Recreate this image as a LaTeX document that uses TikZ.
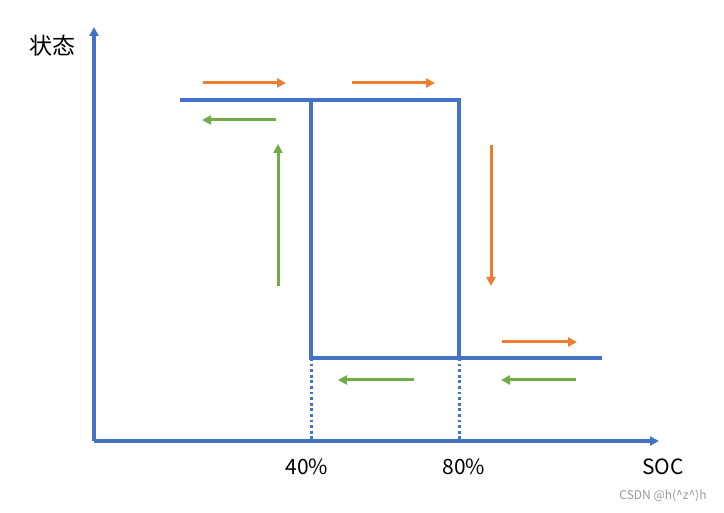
\documentclass[tikz,border=0pt]{standalone}
\usepackage{fontspec}
\setmainfont{Noto Sans CJK SC}
\usetikzlibrary{arrows.meta}
\definecolor{cblue}{HTML}{4472C4}
\definecolor{corange}{HTML}{ED7D31}
\definecolor{cgreen}{HTML}{70AD47}
\begin{document}
\begin{tikzpicture}[x=1pt,y=-1pt,
  axisline/.style={cblue,line width=3.2pt,-{Triangle[length=9pt,width=9pt]}},
  curve/.style={cblue,line width=3.2pt},
  dotline/.style={cblue,line width=3pt,dash pattern=on 2.8pt off 2.8pt},
  oarrow/.style={corange,line width=3pt,-{Triangle[length=9pt,width=9pt]}},
  garrow/.style={cgreen,line width=3pt,-{Triangle[length=9pt,width=9pt]}},
  lbl/.style={font=\fontsize{21}{25}\selectfont,inner sep=0pt}]
\useasboundingbox (0,0) rectangle (724,513);
% coordinates
\coordinate (O) at (94,441);
\coordinate (Ytip) at (94,27);
\coordinate (Xtip) at (659,441);
\coordinate (U0) at (180,100);
\coordinate (U1) at (311,100);
\coordinate (U2) at (459,100);
\coordinate (L1) at (311,358);
\coordinate (L2) at (459,358);
\coordinate (L3) at (602,358);
\coordinate (B1) at (311,441);
\coordinate (B2) at (459,441);
% axes
\draw[axisline] (O) -- (Ytip);
\draw[axisline] (O) -- (Xtip);
% hysteresis
\draw[curve] (U0) -- (U2) -- (L2);
\draw[curve] (U1) -- (L1) -- (L3);
\draw[dotline] (L1) -- (B1);
\draw[dotline] (L2) -- (B2);
% orange arrows
\coordinate (oa1) at (203,83); \coordinate (ob1) at (286,83);
\coordinate (oa2) at (352,83); \coordinate (ob2) at (435,83);
\coordinate (oa3) at (491,145); \coordinate (ob3) at (491,286);
\coordinate (oa4) at (502,342); \coordinate (ob4) at (577,342);
\draw[oarrow] (oa1) -- (ob1);
\draw[oarrow] (oa2) -- (ob2);
\draw[oarrow] (oa3) -- (ob3);
\draw[oarrow] (oa4) -- (ob4);
% green arrows
\coordinate (ga1) at (276,120); \coordinate (gb1) at (202,120);
\coordinate (ga2) at (278,286); \coordinate (gb2) at (278,144);
\coordinate (ga3) at (414,380); \coordinate (gb3) at (338,380);
\coordinate (ga4) at (576,380); \coordinate (gb4) at (501,380);
\draw[garrow] (ga1) -- (gb1);
\draw[garrow] (ga2) -- (gb2);
\draw[garrow] (ga3) -- (gb3);
\draw[garrow] (ga4) -- (gb4);
% labels
\node[font=\fontsize{23}{27}\selectfont,inner sep=0pt] (ylab) at (53,46) {状态};
\node[lbl] (p40) at (307,467) {40\%};
\node[lbl] (p80) at (464,467) {80\%};
\node[lbl] (soc) at (663,467) {SOC};
\node[font=\fontsize{12}{14}\selectfont,text=gray!80,inner sep=0pt] (wm) at (663,496) {CSDN @h(\^{}z\^{})h};
\end{tikzpicture}
\end{document}
